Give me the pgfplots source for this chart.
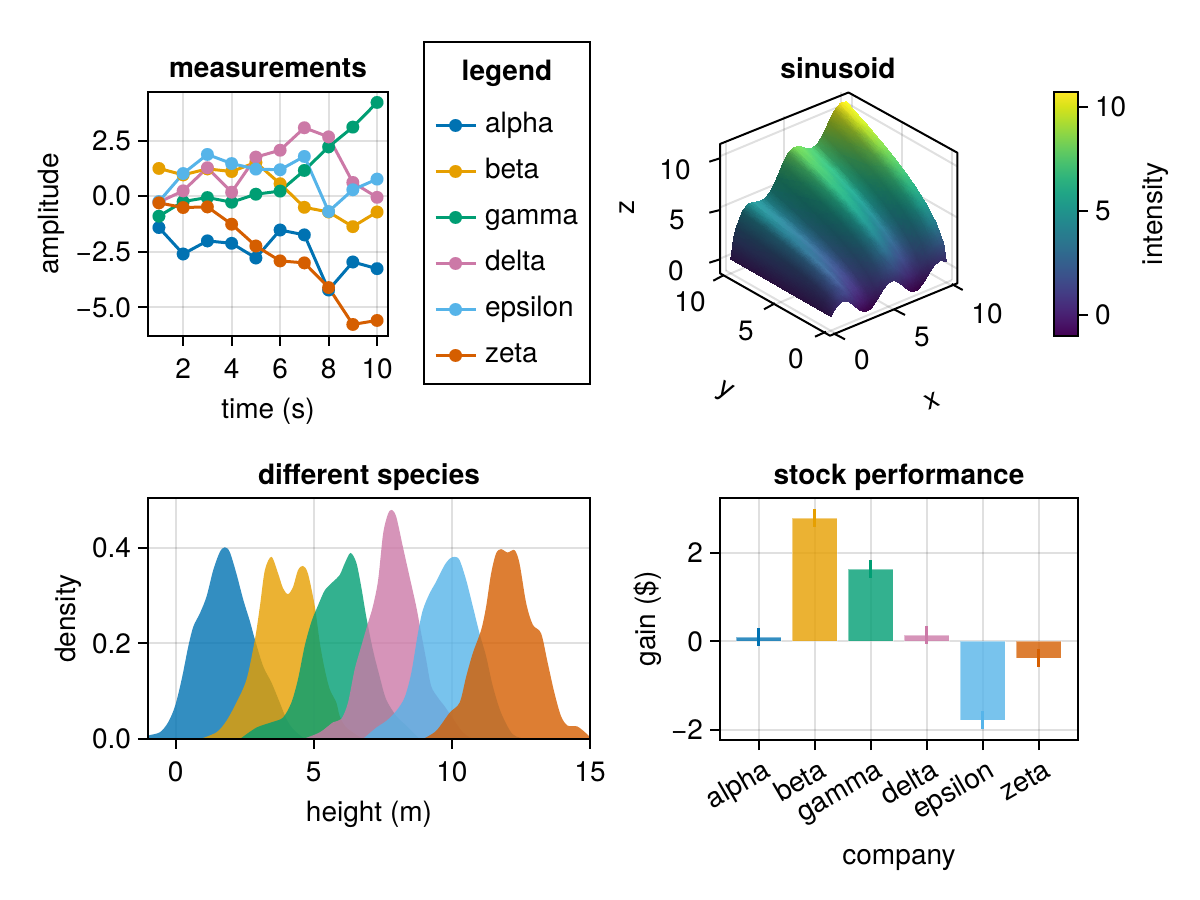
\documentclass[border=0pt]{standalone}
\usepackage{pgfplots}
\pgfplotsset{compat=1.18}
\usepackage{fontspec}
\setmainfont{TeX Gyre Heros}
\definecolor{cA}{HTML}{0072B2}
\definecolor{cB}{HTML}{E69F00}
\definecolor{cC}{HTML}{009E73}
\definecolor{cD}{HTML}{CC79A7}
\definecolor{cE}{HTML}{56B4E9}
\definecolor{cF}{HTML}{D55E00}
\newcommand{\fs}{\fontsize{14}{16}\selectfont}
% shading of the surface (colour only: slope of the surface, viridis polynomial)
\newcommand{\XX}{\thisrow{x}}
\newcommand{\YY}{\thisrow{y}}
\newcommand{\TT}{((\thisrow{z}+1.01)/11.79)}
\newcommand{\GX}{(1.5*cos(deg(1.5*\XX))+0.5*sqrt(\YY/sm(\XX)))}
\newcommand{\GY}{(0.5*sqrt(\XX/sm(\YY)))}
\newcommand{\NL}{sqrt(1+\GX*\GX+\GY*\GY)}
\newcommand{\DIF}{mypos((1-0.41*\GX+0.33*\GY)/\NL)}
\newcommand{\SPC}{(0.05*flo((0.88-0.35*\GX+0.33*\GY)/\NL)^16)}
\newcommand{\VR}{(0.27773+\TT*(0.10509+\TT*(-0.33086+\TT*(-4.63423+\TT*(6.22827+\TT*(4.77638+\TT*(-5.43546)))))))}
\newcommand{\VG}{(0.00541+\TT*(1.40461+\TT*(0.21485+\TT*(-5.79910+\TT*(14.17993+\TT*(-13.74515+\TT*(4.64585)))))))}
\newcommand{\VB}{(0.33410+\TT*(1.38459+\TT*(0.09510+\TT*(-19.33244+\TT*(56.69055+\TT*(-65.35303+\TT*(26.31244)))))))}
\newcommand{\LIT}[1]{mclip(#1*(0.55+0.48*\DIF)+\SPC)}
\pgfplotsset{
  gridlook/.style={grid=major,major grid style={draw=black,draw opacity=0.12,line width=1pt}},
  base/.style={scale only axis,font=\fs,
    /pgf/number format/assume math mode=true,
    tick style={black,line width=1pt},
    major tick length=5pt,
    tick align=outside,
    axis line style={line width=1pt},
    gridlook,
    xtick pos=lower,ytick pos=left,
    xticklabel shift=3pt,
    every tick label/.append style={font=\fs},
    title style={font=\fs\bfseries,anchor=base,yshift=0pt},
    label style={font=\fs},
    xlabel style={anchor=base},
    ylabel style={anchor=base},
  },
  ser/.style={color=#1,line width=1.5pt,mark=*,mark size=3.2pt,mark options={draw=#1,fill=#1,line width=0.01pt,solid}},
  den/.style={draw=none,fill=#1,fill opacity=0.8,smooth,tension=0.5},
  barp/.style={draw=white,draw opacity=0.4,line width=0.5pt,fill=#1,fill opacity=0.8,
    error bars/.cd,y dir=both,y explicit,error mark=none,error bar style={draw=#1,draw opacity=1,solid,line width=1.5pt}},
}
\begin{document}
\begin{tikzpicture}
\useasboundingbox (0,0) rectangle (600pt,450pt);
% measurements
\begin{axis}[base,at={(74pt,282pt)},anchor=south west,width=120pt,height=122pt,
  xmin=0.55,xmax=10.45,ymin=-6.29,ymax=4.69,
  xtick={2,4,6,8,10},xticklabels={2,4,6,8,10},
  ytick={-5,-2.5,0,2.5},yticklabels={−5.0,−2.5,0.0,2.5},
  title={measurements},title style={at={(axis description cs:0.5,1.01)}},
  xlabel={time (s)},xlabel style={at={(axis description cs:0.5,-0.338)}},
  ylabel={amplitude},ylabel style={at={(axis description cs:-0.372,0.5)}},
  legend cell align=left,
  legend style={at={(axis description cs:1.192,0.916)},anchor=north west,draw=none,fill=none,
    inner sep=0pt,outer sep=0pt,row sep=10pt,column sep=4pt,
    nodes={inner sep=0pt,text height=10pt,text depth=3pt},font=\fs},
  legend image code/.code={\draw[#1,mark repeat=2,mark phase=2] plot coordinates {(0pt,0pt)(10pt,0pt)(20pt,0pt)};},
]
\addplot[ser=cA] coordinates {(1,-1.41)(2,-2.60)(3,-2.01)(4,-2.12)(5,-2.78)(6,-1.52)(7,-1.74)(8,-4.22)(9,-2.96)(10,-3.26)};
\addplot[ser=cB] coordinates {(1,1.25)(2,0.96)(3,1.23)(4,1.11)(5,1.52)(6,0.56)(7,-0.50)(8,-0.71)(9,-1.37)(10,-0.71)};
\addplot[ser=cC] coordinates {(1,-0.90)(2,-0.24)(3,-0.06)(4,-0.27)(5,0.09)(6,0.23)(7,1.16)(8,2.22)(9,3.11)(10,4.22)};
\addplot[ser=cD] coordinates {(1,-0.27)(2,0.24)(3,1.28)(4,0.18)(5,1.76)(6,2.07)(7,3.08)(8,2.67)(9,0.62)(10,-0.05)};
\addplot[ser=cE] coordinates {(1,-0.24)(2,1.02)(3,1.88)(4,1.47)(5,1.22)(6,1.19)(7,1.79)(8,-0.69)(9,0.29)(10,0.77)};
\addplot[ser=cF] coordinates {(1,-0.30)(2,-0.51)(3,-0.48)(4,-1.26)(5,-2.24)(6,-2.91)(7,-3.00)(8,-4.11)(9,-5.77)(10,-5.59)};
\legend{alpha,beta,gamma,delta,epsilon,zeta}
\end{axis}
% surface
\begin{axis}[at={(360pt,282pt)},anchor=south west,font=\fs,
  x={(5.775pt,2.41pt)},y={(-5pt,2.865pt)},z={(0pt,5.12pt)},
  xmin=-0.5,xmax=10.5,ymin=-0.5,ymax=10.5,zmin=-1.4,zmax=11.3,
  xtick={0,5,10},ytick={0,5,10},ztick={0,5,10},
  xticklabels={},yticklabels={},zticklabels={},
  tick style={draw=none},axis line style={draw=none},
  gridlook,
  declare function={sm(\q)=max(\q,0.06);mypos(\q)=max(0,\q);flo(\q)=max(0.01,\q);mclip(\q)=min(1,max(0,\q));},
]
\addplot3[surf,shader=interp,mesh/rows=10,mesh/cols=22,mesh/ordering=y varies,z buffer=sort,
  mesh/color input=explicit mathparse,
  point meta={symbolic={\LIT{\VR},\LIT{\VG},\LIT{\VB}}}] table[x=x,y=y,z=z] {
x y z
0 0 0
0 .25 0
0 1 0
0 2 0
0 3 0
0 4 0
0 5 0
0 6 0
0 8 0
0 10 0
.25 0 .366
.25 .25 .616
.25 1 .866
.25 2 1.073
.25 3 1.232
.25 4 1.366
.25 5 1.484
.25 6 1.591
.25 8 1.780
.25 10 1.947
.5 0 .682
.5 .25 1.036
.5 1 1.389
.5 2 1.682
.5 3 1.907
.5 4 2.096
.5 5 2.263
.5 6 2.414
.5 8 2.682
.5 10 2.918
1 0 .997
1 .25 1.497
1 1 1.997
1 2 2.411
1 3 2.729
1 4 2.997
1 5 3.233
1 6 3.446
1 8 3.825
1 10 4.159
1.5 0 .778
1.5 .25 1.390
1.5 1 2.003
1.5 2 2.510
1.5 3 2.899
1.5 4 3.227
1.5 5 3.516
1.5 6 3.777
1.5 8 4.242
1.5 10 4.651
2 0 .141
2 .25 .848
2 1 1.555
2 2 2.141
2 3 2.590
2 4 2.969
2 5 3.303
2 6 3.604
2 8 4.141
2 10 4.613
2.5 0 -.572
2.5 .25 .219
2.5 1 1.009
2.5 2 1.664
2.5 3 2.167
2.5 4 2.590
2.5 5 2.963
2.5 6 3.300
2.5 8 3.899
2.5 10 4.428
3 0 -.978
3 .25 -.112
3 1 .754
3 2 1.471
3 3 2.022
3 4 2.486
3 5 2.895
3 6 3.264
3 8 3.920
3 10 4.499
3.5 0 -.859
3.5 .25 .076
3.5 1 1.012
3.5 2 1.787
3.5 3 2.381
3.5 4 2.883
3.5 5 3.324
3.5 6 3.722
3.5 8 4.432
3.5 10 5.057
4 0 -.279
4 .25 .721
4 1 1.721
4 2 2.549
4 3 3.185
4 4 3.721
4 5 4.193
4 6 4.619
4 8 5.377
4 10 6.045
4.5 0 .450
4.5 .25 1.511
4.5 1 2.571
4.5 2 3.450
4.5 3 4.124
4.5 4 4.693
4.5 5 5.193
4.5 6 5.645
4.5 8 6.449
4.5 10 7.158
5 0 .938
5 .25 2.056
5 1 3.174
5 2 4.100
5 3 4.811
5 4 5.410
5 5 5.938
5 6 6.414
5 8 7.262
5 10 8.009
5.5 0 .922
5.5 .25 2.095
5.5 1 3.267
5.5 2 4.238
5.5 3 4.984
5.5 4 5.612
5.5 5 6.166
5.5 6 6.665
5.5 8 7.554
5.5 10 8.338
6 0 .412
6 .25 1.637
6 1 2.862
6 2 3.876
6 3 4.654
6 4 5.311
6 5 5.889
6 6 6.411
6 8 7.340
6 10 8.158
6.5 0 -.319
6.5 .25 .956
6.5 1 2.231
6.5 2 3.286
6.5 3 4.097
6.5 4 4.780
6.5 5 5.382
6.5 6 5.924
6.5 8 6.891
6.5 10 7.743
7 0 -.880
7 .25 .443
7 1 1.766
7 2 2.862
7 3 3.703
7 4 4.412
7 5 5.036
7 6 5.599
7 8 6.602
7 10 7.486
7.5 0 -.978
7.5 .25 .391
7.5 1 1.761
7.5 2 2.895
7.5 3 3.765
7.5 4 4.499
7.5 5 5.146
7.5 6 5.729
7.5 8 6.767
7.5 10 7.682
8 0 -.537
8 .25 .877
8 1 2.291
8 2 3.463
8 3 4.362
8 4 5.120
8 5 5.787
8 6 6.390
8 8 7.462
8 10 8.407
8.5 0 .182
8.5 .25 1.640
8.5 1 3.098
8.5 2 4.305
8.5 3 5.232
8.5 4 6.013
8.5 5 6.701
8.5 6 7.322
8.5 8 8.427
8.5 10 9.401
9 0 .804
9 .25 2.304
9 1 3.804
9 2 5.046
9 3 6.000
9 4 6.804
9 5 7.512
9 6 8.151
9 8 9.288
9 10 10.290
9.5 0 .994
9.5 .25 2.535
9.5 1 4.076
9.5 2 5.353
9.5 3 6.332
9.5 4 7.158
9.5 5 7.886
9.5 6 8.542
9.5 8 9.711
9.5 10 10.740
10 0 .650
10 .25 2.231
10 1 3.812
10 2 5.122
10 3 6.127
10 4 6.975
10 5 7.721
10 6 8.394
10 8 9.593
10 10 10.650
};
\end{axis}
% colorbar
\begin{axis}[base,at={(527pt,282pt)},anchor=south west,width=12pt,height=122pt,
  grid=none,view={0}{90},xmin=0,xmax=1,ymin=-1.01,ymax=10.72,xtick=\empty,
  ytick={0,5,10},yticklabels={0,5,10},ytick pos=right,yticklabel pos=right,
  ylabel={intensity},ylabel style={at={(axis description cs:4.5,0.5)}},
  colormap/viridis,point meta min=-1.01,point meta max=10.72]
\addplot3[surf,shader=interp,mesh/rows=2,mesh/cols=2,point meta=y] coordinates {(0,-1.01,0)(1,-1.01,0)(0,10.72,0)(1,10.72,0)};
\end{axis}
% density
\begin{axis}[base,at={(74pt,80.5pt)},anchor=south west,width=221pt,height=120.5pt,
  xmin=-1,xmax=15,ymin=0,ymax=0.504,
  xtick={0,5,10,15},xticklabels={0,5,10,15},
  ytick={0,0.2,0.4},yticklabels={0.0,0.2,0.4},
  title={different species},title style={at={(axis description cs:0.5,1.008)}},
  xlabel={height (m)},xlabel style={at={(axis description cs:0.5,-0.344)}},
  ylabel={density},ylabel style={at={(axis description cs:-0.165,0.5)}},
]
\addplot[den=cA] coordinates {(-1,0)(-1,0.007)(-0.57,0.014)(-0.27,0.035)(-0.02,0.069)(0.22,0.125)(0.46,0.194)(0.64,0.235)(0.88,0.263)(1.12,0.298)(1.36,0.353)(1.60,0.391)(1.78,0.401)(1.96,0.391)(2.20,0.346)(2.45,0.291)(2.69,0.246)(2.87,0.208)(3.17,0.152)(3.47,0.118)(3.77,0.076)(4.01,0.042)(4.25,0.021)(4.61,0.003)(4.8,0)};
\addplot[den=cB] coordinates {(0.88,0)(1.48,0.014)(1.84,0.038)(2.20,0.076)(2.57,0.125)(2.87,0.208)(3.05,0.277)(3.23,0.353)(3.47,0.381)(3.71,0.346)(3.89,0.315)(4.07,0.303)(4.25,0.318)(4.43,0.353)(4.61,0.362)(4.79,0.346)(5.04,0.277)(5.22,0.201)(5.40,0.145)(5.58,0.104)(5.82,0.076)(5.94,0.048)(6.18,0.024)(6.78,0)};
\addplot[den=cC] coordinates {(2.33,0)(2.93,0.024)(3.53,0.036)(3.89,0.045)(4.19,0.076)(4.43,0.125)(4.67,0.194)(4.92,0.246)(5.16,0.28)(5.40,0.311)(5.70,0.329)(5.94,0.343)(6.12,0.367)(6.33,0.389)(6.54,0.369)(6.72,0.318)(6.90,0.256)(7.14,0.187)(7.38,0.132)(7.62,0.083)(7.99,0.048)(8.35,0.028)(8.83,0)};
\addplot[den=cD] coordinates {(4.61,0)(5.22,0.014)(5.70,0.035)(6.0,0.042)(6.24,0.076)(6.48,0.145)(6.72,0.194)(6.96,0.242)(7.14,0.277)(7.33,0.332)(7.51,0.429)(7.69,0.471)(7.83,0.479)(7.99,0.464)(8.23,0.401)(8.47,0.339)(8.71,0.277)(8.89,0.221)(9.07,0.166)(9.25,0.111)(9.49,0.087)(9.73,0.069)(9.98,0.048)(10.4,0.014)(10.76,0)};
\addplot[den=cE] coordinates {(6.78,0)(7.27,0.024)(7.63,0.038)(7.99,0.059)(8.29,0.087)(8.53,0.138)(8.77,0.221)(8.95,0.27)(9.19,0.304)(9.43,0.329)(9.73,0.363)(9.92,0.377)(10.1,0.381)(10.28,0.374)(10.52,0.332)(10.76,0.277)(11.0,0.221)(11.24,0.173)(11.48,0.111)(11.78,0.055)(12.2,0.01)(12.69,0)};
\addplot[den=cF] coordinates {(8.95,0)(9.43,0.017)(9.92,0.055)(10.28,0.076)(10.52,0.131)(10.76,0.18)(11.06,0.228)(11.24,0.277)(11.42,0.346)(11.6,0.388)(11.78,0.397)(12.02,0.39)(12.27,0.395)(12.45,0.367)(12.69,0.284)(12.93,0.239)(13.23,0.221)(13.47,0.159)(13.71,0.097)(13.95,0.048)(14.19,0.028)(14.55,0.026)(14.95,0.007)(15,0)};
\end{axis}
% bars
\begin{axis}[base,at={(360pt,80pt)},anchor=south west,width=179pt,height=121pt,
  xmin=0.31,xmax=6.7,ymin=-2.226,ymax=3.243,
  xtick={1,2,3,4,5,6},xticklabels={alpha,beta,gamma,delta,epsilon,zeta},
  xticklabel shift=1pt,
  x tick label style={rotate=30,anchor=north east,xshift=3.5pt,text height=10pt,text depth=3pt},
  ytick={-2,0,2},yticklabels={−2,0,2},
  title={stock performance},title style={at={(axis description cs:0.5,1.008)}},
  xlabel={company},xlabel style={at={(axis description cs:0.5,-0.514)}},
  ylabel={gain (\$)},ylabel style={at={(axis description cs:-0.18,0.5)}},
  ybar,bar width=22.5pt,bar shift=0pt,
]
\addplot[barp=cA] coordinates {(1,0.098) +- (0,0.2)};
\addplot[barp=cB] coordinates {(2,2.79) +- (0,0.2)};
\addplot[barp=cC] coordinates {(3,1.635) +- (0,0.2)};
\addplot[barp=cD] coordinates {(4,0.143) +- (0,0.2)};
\addplot[barp=cE] coordinates {(5,-1.777) +- (0,0.2)};
\addplot[barp=cF] coordinates {(6,-0.377) +- (0,0.2)};
\end{axis}
% frames, legend box and the 3D axis furniture in picture pixels
\begin{scope}[x=0.5pt,y=-0.5pt,shift={(0pt,450pt)},line width=1pt,font=\fs]
\draw (148,92) rectangle (388,336);
\draw (148,498) rectangle (590,739);
\draw (720,498) rectangle (1078,740);
\draw (1054,92) rectangle (1078,336);
\draw (424,42) rectangle (590,384);
\node[anchor=base,font=\fs\bfseries] at (507,81) {legend};
\draw[line join=round] (848.5,92.5)--(957.3,152.7)--(957.3,283.3)--(830,335.7)--(720,273.3)--(720,144)--cycle;
\draw (709.3,161.7)--(720,158.3) (709.3,212.7)--(720,210) (709.3,262.7)--(720,259.3);
\draw (845,339.3)--(833.3,333.3) (905,315)--(894,309.3) (962.7,290)--(951.7,284);
\draw (815,336.7)--(826,331.7) (764,309.3)--(775,303.3) (713.3,280.7)--(724,275);
\node at (676,271) {0}; \node at (677,220) {5}; \node at (675,170) {10};
\node at (862,360) {0}; \node at (922,337) {5}; \node at (987,314) {10};
\node at (796,359) {0}; \node at (746,331) {5}; \node at (690,302) {10};
\node[rotate=22.6] at (932,401) {x};
\node[rotate=-30] at (725,392) {y};
\node[rotate=90] at (627,208) {z};
\node[anchor=base,font=\fs\bfseries] at (838,79) {sinusoid};
\end{scope}
\end{tikzpicture}
\end{document}
